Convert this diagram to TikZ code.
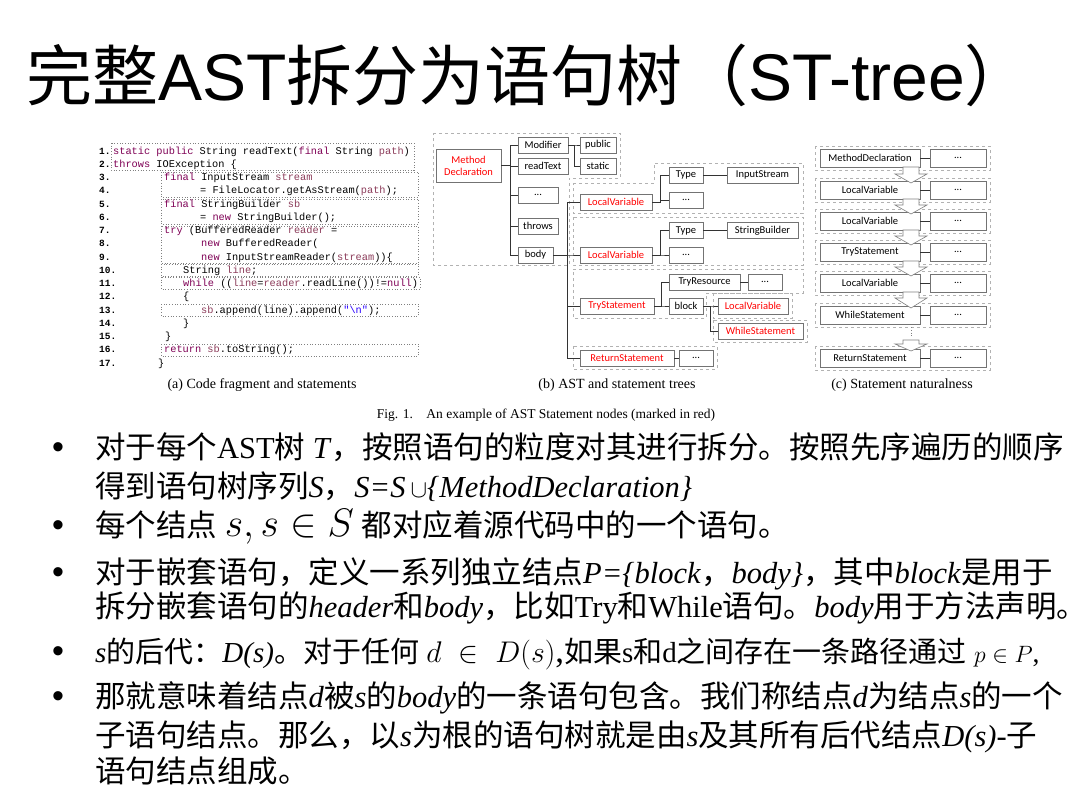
\documentclass[tikz,border=0pt]{standalone}
\usepackage{fontspec}
\usepackage{graphicx}
\setmainfont{Liberation Serif}
\newfontfamily\zhf{Noto Sans CJK SC}
\newfontfamily\arialf{Liberation Sans}
\newfontfamily\codef{Liberation Mono}
\newfontfamily\figf{Carlito}
\newcommand\zh[1]{{\zhf #1}}
\definecolor{kwc}{RGB}{127,0,85}
\definecolor{vrc}{RGB}{140,60,90}
\definecolor{strc}{RGB}{42,0,255}
\newcommand\kw[1]{\textcolor{kwc}{#1}}
\newcommand\vr[1]{\textcolor{vrc}{#1}}
\tikzset{
 b/.style={draw=black!55, fill=white, font=\figf\fontsize{10.5}{12}\selectfont, inner sep=1pt, line width=0.6pt},
 rb/.style={b, text=red},
 grp/.style={draw=gray!60, dashed, line width=0.6pt},
 ln/.style={draw=black!80, line width=0.8pt},
 cdb/.style={draw=gray, dotted, line width=0.7pt},
 cl/.style={anchor=base west, inner sep=0pt, font=\codef\fontsize{10.3}{12}\selectfont},
 bl/.style={anchor=base west, inner sep=0pt, font=\fontsize{30.5}{33}\selectfont},
 capt/.style={font=\fontsize{14}{16}\selectfont, inner sep=0pt},
 harrow/.style={draw=gray, fill=white, line width=0.6pt},
}
\newcommand\hollowarrow[3]{\draw[harrow] (903,#1) -- (919,#1) -- (919,#2) -- (927,#2) -- (911,#3) -- (895,#2) -- (903,#2) -- cycle;}
\begin{document}
\begin{tikzpicture}[x=1pt,y=-1pt]
\useasboundingbox[fill=white] (0,0) rectangle (1087,790);
% title
\node[anchor=base west, inner sep=0pt, font=\fontsize{66}{70}\selectfont\arialf] (title) at (26,100) {\zh{完整}AST\zh{拆分为语句树（}ST-tree\zh{）}};
% code boxes
\draw[cdb] (111,143) rectangle (414,170);
\draw[cdb] (161,172) rectangle (418,197);
\draw[cdb] (161,199) rectangle (418,224);
\draw[cdb] (161,226) rectangle (418,263);
\draw[cdb] (161,264) rectangle (418,276);
\draw[cdb] (161,277) rectangle (420,289);
\draw[cdb] (161,304) rectangle (418,316);
\draw[cdb] (161,344) rectangle (418,356);
% line numbers
\foreach \i in {1,...,17}{
  \node[cl, font=\codef\bfseries\fontsize{9.5}{11}\selectfont] (n\i) at (99,{154+(\i-1)*13.25}) {\i.};
}
\node[cl] (c1) at (113,154) {\kw{static public} String readText(\kw{final} String \vr{path})};
\node[cl] (c2) at (113,167.25) {\kw{throws} IOException \{};
\node[cl] (c3) at (164,180.5) {\kw{final} InputStream \vr{stream}};
\node[cl] (c4) at (200,193.75) {= FileLocator.getAsStream(\vr{path});};
\node[cl] (c5) at (164,207) {\kw{final} StringBuilder \vr{sb}};
\node[cl] (c6) at (200,220.25) {= \kw{new} StringBuilder();};
\node[cl] (c7) at (164,233.5) {\kw{try} (BufferedReader \vr{reader} =};
\node[cl] (c8) at (201,246.75) {\kw{new} BufferedReader(};
\node[cl] (c9) at (201,260) {\kw{new} InputStreamReader(\vr{stream}))\{};
\node[cl] (c10) at (183,273.25) {String \vr{line};};
\node[cl] (c11) at (183,286.5) {\kw{while} ((\vr{line}=\vr{reader}.readLine())!=\kw{null})};
\node[cl] (c12) at (183,299.75) {\{};
\node[cl] (c13) at (201,313) {\vr{sb}.append(line).append(\textcolor{strc}{"\textbackslash n"});};
\node[cl] (c14) at (183,326.25) {\}};
\node[cl] (c15) at (165,339.5) {\}};
\node[cl] (c16) at (164,352.75) {\kw{return} \vr{sb}.toString();};
\node[cl] (c17) at (158,366) {\}};
% AST groups
\draw[grp] (433,133) -- (620,133) -- (620,178) -- (569,178) -- (569,265) -- (433,265) -- cycle;
\draw[grp] (573,183) -- (654,183) -- (654,163) -- (803,163) -- (803,213) -- (573,213) -- cycle;
\draw[grp] (573,217) rectangle (803,265);
\draw[grp] (573,269) -- (803,269) -- (803,293) -- (706,293) -- (706,318) -- (573,318) -- cycle;
\draw[grp] (713,293) rectangle (792,318);
\draw[grp] (713,320) rectangle (807,342);
\draw[grp] (573,346) rectangle (717,369);
% AST nodes
\node[rb, minimum width=65pt, minimum height=33pt, align=center] (md) at (468.5,165.5) {Method\\Declaration};
\node[b, minimum width=50pt, minimum height=16pt] (mod) at (543,145) {Modifier};
\node[b, minimum width=36pt, minimum height=16pt] (pub) at (598,145) {public};
\node[b, minimum width=50pt, minimum height=16pt] (rt) at (543,166) {readText};
\node[b, minimum width=36pt, minimum height=16pt] (st) at (598,166) {static};
\node[b, minimum width=40pt, minimum height=16pt] (d1) at (538,195) {...};
\node[b, minimum width=40pt, minimum height=16pt] (thr) at (538,226) {throws};
\node[b, minimum width=35pt, minimum height=16pt] (body) at (535.5,255) {body};
\node[rb, minimum width=72pt, minimum height=16pt] (lv1) at (616,202) {LocalVariable};
\node[b, minimum width=34pt, minimum height=16pt] (ty1) at (686,175) {Type};
\node[b, minimum width=71pt, minimum height=16pt] (is) at (762.5,175) {InputStream};
\node[b, minimum width=34pt, minimum height=16pt] (d2) at (686,200) {...};
\node[rb, minimum width=72pt, minimum height=16pt] (lv2) at (616,255) {LocalVariable};
\node[b, minimum width=34pt, minimum height=16pt] (ty2) at (686,230.5) {Type};
\node[b, minimum width=71pt, minimum height=16pt] (sbn) at (762.5,230.5) {StringBuilder};
\node[b, minimum width=34pt, minimum height=16pt] (d3) at (686,255) {...};
\node[rb, minimum width=74pt, minimum height=16pt] (ts) at (617,306) {TryStatement};
\node[b, minimum width=71pt, minimum height=16pt] (tr) at (704.5,282) {TryResource};
\node[b, minimum width=34pt, minimum height=16pt] (d4) at (765,282) {...};
\node[b, minimum width=34pt, minimum height=16pt] (blk) at (686,306) {block};
\node[rb, minimum width=70pt, minimum height=16pt] (lv3) at (753,306) {LocalVariable};
\node[rb, minimum width=85pt, minimum height=16pt] (ws) at (760.5,331) {WhileStatement};
\node[rb, minimum width=94pt, minimum height=16pt] (rs) at (627,358) {ReturnStatement};
\node[b, minimum width=34pt, minimum height=16pt] (d5) at (696,358) {...};
% AST connectors
\foreach \c in {mod,rt,d1,thr,body} \draw[ln] (md.east) -- ++(9,0) |- (\c.west);
\foreach \c in {pub,st} \draw[ln] (mod.east) -- ++(6,0) |- (\c.west);
\foreach \c in {lv1,lv2,ts,rs} \draw[ln] (body.east) -- ++(14,0) |- (\c.west);
\foreach \c in {ty1,d2} \draw[ln] (lv1.east) -- ++(8,0) |- (\c.west);
\foreach \c in {ty2,d3} \draw[ln] (lv2.east) -- ++(8,0) |- (\c.west);
\foreach \c in {tr,blk} \draw[ln] (ts.east) -- ++(7,0) |- (\c.west);
\foreach \c in {lv3,ws} \draw[ln] (blk.east) -- ++(7,0) |- (\c.west);
\draw[ln] (ty1) -- (is);
\draw[ln] (ty2) -- (sbn);
\draw[ln] (tr) -- (d4);
\draw[ln] (rs) -- (d5);
% right column
\foreach \t/\y [count=\k] in {MethodDeclaration/158,LocalVariable/190,LocalVariable/221,TryStatement/252,LocalVariable/283,WhileStatement/315,ReturnStatement/358}{
  \draw[grp] (815,\y-12) rectangle (990,\y+12);
  \node[b, minimum width=100pt, minimum height=18pt] (r\k) at (870,\y) {\t};
  \node[b, minimum width=56pt, minimum height=18pt] (e\k) at (958,\y) {...};
  \draw[ln] (r\k) -- (e\k);
}
\hollowarrow{167}{174}{183}
\hollowarrow{199}{205}{214}
\hollowarrow{230}{236}{245}
\hollowarrow{261}{267}{276}
\hollowarrow{292}{298}{308}
\draw[gray, dotted, line width=0.8pt] (911,327) -- (911,338);
\hollowarrow{340}{344}{351}
% captions
\node[capt] (capa) at (262,385) {(a) Code fragment and statements};
\node[capt] (capb) at (617,385) {(b) AST and statement trees};
\node[capt] (capc) at (902,385) {(c) Statement naturalness};
\node[capt, font=\fontsize{13.5}{15}\selectfont] (fig) at (546,415) {Fig. 1.\quad An example of AST Statement nodes (marked in red)};
% bullets
\foreach \y in {458,536,583,662,707}{
  \node[anchor=base, inner sep=0pt, font=\fontsize{34}{36}\selectfont\arialf] at (58,\y) {•};
}
\node[bl] (l1) at (95,458) {\zh{对于每个}AST\zh{树} \textit{T}\zh{，按照语句的粒度对其进行拆分。按照先序遍历的顺序}};
\node[bl] (l2) at (95,497) {\zh{得到语句树序列}\textit{S}\zh{，}\textit{S=S}\,$\cup$\textit{\{MethodDeclaration\}}};
\node[bl] (l3) at (95,536) {\zh{每个结点} \scalebox{1.6}{$s,s\in S$} \zh{都对应着源代码中的一个语句。}};
\node[bl] (l4) at (95,583) {\zh{对于嵌套语句，定义一系列独立结点}\textit{P=\{block}\zh{，}\textit{body\}}\zh{，其中}\textit{block}\zh{是用于}};
\node[bl] (l5) at (95,617) {\zh{拆分嵌套语句的}\textit{header}\zh{和}\textit{body}\zh{，比如}Try\zh{和}While\zh{语句。}\textit{body}\zh{用于方法声明。}};
\node[bl, font=\fontsize{29}{32}\selectfont] (l6) at (95,662) {\textit{s}\zh{的后代：}\textit{D(s)}\zh{。对于任何} \scalebox{1.2}{$d\ \in\ D(s)$,}\zh{如果}s\zh{和}d\zh{之间存在一条路径通过} \scalebox{0.95}{$p\in P$,}};
\node[bl] (l7) at (95,707) {\zh{那就意味着结点}\textit{d}\zh{被}\textit{s}\zh{的}\textit{body}\zh{的一条语句包含。我们称结点}\textit{d}\zh{为结点}\textit{s}\zh{的一个}};
\node[bl] (l8) at (95,746) {\zh{子语句结点。那么，以}\textit{s}\zh{为根的语句树就是由}\textit{s}\zh{及其所有后代结点}\textit{D(s)}-\zh{子}};
\node[bl] (l9) at (95,782) {\zh{语句结点组成。}};
\end{tikzpicture}
\end{document}
